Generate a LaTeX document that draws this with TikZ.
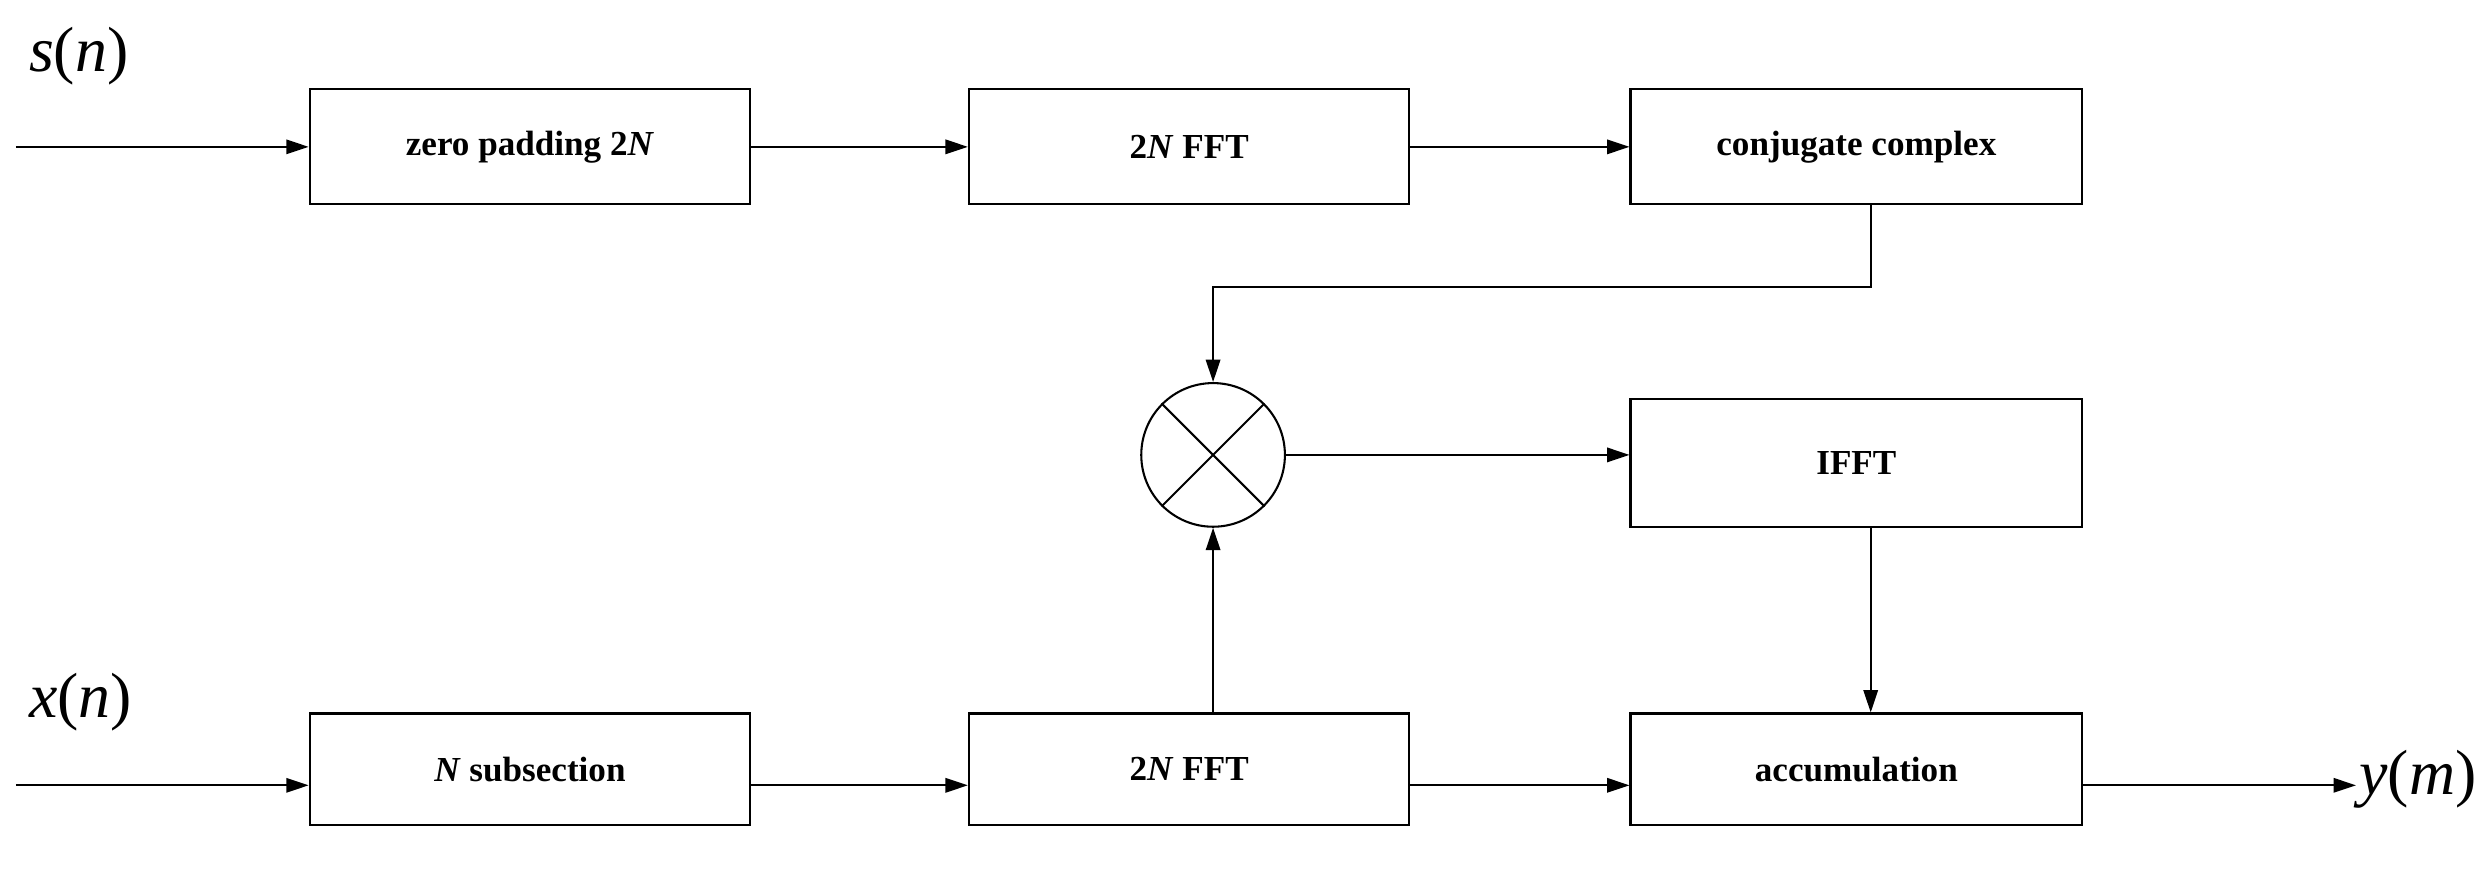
\documentclass[tikz,border=0pt]{standalone}
\usepackage{fontspec}
\setmainfont{Liberation Serif}
\usetikzlibrary{arrows.meta}
\begin{document}
\begin{tikzpicture}[x=1pt,y=-1pt,
  blk/.style={draw,line width=1.3pt,minimum width=283pt,minimum height=72pt,font=\fontsize{22}{26}\selectfont\bfseries,inner sep=0pt},
  lbl/.style={font=\fontsize{40}{44}\selectfont,inner sep=0pt},
  arr/.style={line width=1.3pt,-{Triangle[length=14pt,width=9pt]}},
  ln/.style={line width=1.3pt}]
\useasboundingbox (0,0) rectangle (1560,546);
\node[blk,minimum width=276pt] (zp) at (332,92) {zero padding 2\textit{N}};
\node[blk,minimum width=276pt] (f1) at (745,92) {2\textit{N} FFT};
\node[blk] (cc) at (1163,92) {conjugate complex};
\node[draw,circle,line width=1.3pt,minimum size=90pt,inner sep=0pt] (m) at (760,285) {};
\draw[line width=1.3pt] (m.north west)--(m.south east) (m.north east)--(m.south west);
\node[blk,minimum height=80pt] (if) at (1163,290) {IFFT};
\node[blk,minimum width=276pt,minimum height=70pt] (ns) at (332,482) {\textit{N} subsection};
\node[blk,minimum width=276pt,minimum height=70pt] (f2) at (745,482) {2\textit{N} FFT};
\node[blk,minimum height=70pt] (ac) at (1163,482) {accumulation};
\node[lbl,anchor=west] (sn) at (18,35) {\textit{s}(\textit{n})};
\node[lbl,anchor=west] (xn) at (18,440) {\textit{x}(\textit{n})};
\coordinate (sin) at (10,92);
\coordinate (xin) at (10,492);
\draw[arr] (sin) -- (sin -| zp.west);
\draw[arr] (xin) -- (xin -| ns.west);
\draw[arr] (zp) -- (f1);
\draw[arr] (f1) -- (cc);
\draw[arr] (ns.east |- xin) -- (f2.west |- xin);
\draw[arr] (f2.east |- xin) -- (ac.west |- xin);
\coordinate (out) at (1476,492);
\draw[arr] (ac.east |- xin) -- (out);
\node[lbl,anchor=west] (ym) at (1478,488) {\textit{y}(\textit{m})};
\coordinate (cd) at (1172,180);
\draw[arr] (cc.south -| cd) -- (cd) -| (m.north);
\draw[arr] (m.east) -- (if.west |- m.east);
\draw[arr] (f2.north -| m) -- (m.south);
\draw[arr] (if.south -| cd) -- (ac.north -| cd);
\end{tikzpicture}
\end{document}
